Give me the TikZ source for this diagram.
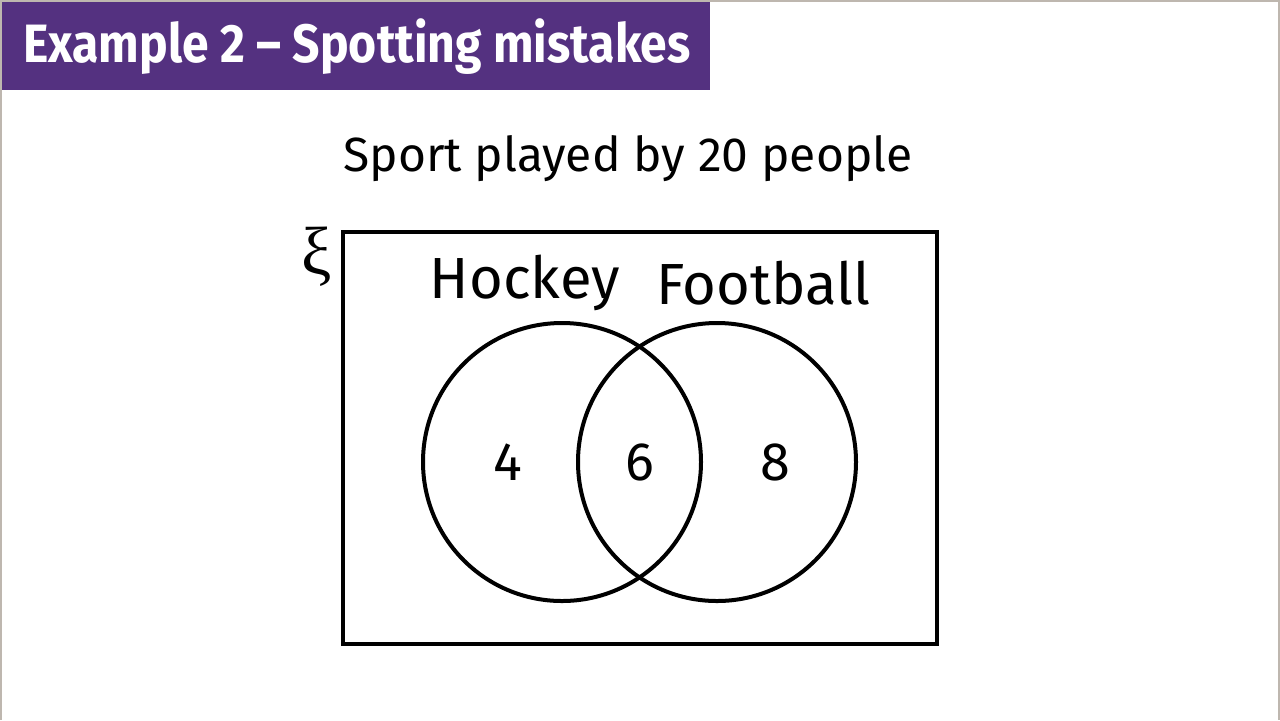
\documentclass[tikz,border=0pt]{standalone}
\usepackage{fontspec}
\setmainfont{Fira Sans}
\newfontfamily\titlefont[FakeStretch=0.89]{Fira Sans}
\newfontfamily\greekfont{Liberation Serif}
\usetikzlibrary{positioning}

\definecolor{bbcpurple}{RGB}{84,49,128}
\definecolor{framegrey}{RGB}{190,183,175}

\begin{document}
\begin{tikzpicture}[x=0.5pt, y=-0.5pt,
		vennline/.style = {line width=2pt, black},
		setlabel/.style = {font=\fontsize{29}{34}\selectfont, inner sep=0pt},
		count/.style = {font=\fontsize{27}{32}\selectfont, inner sep=0pt}]
			\useasboundingbox (0,0) rectangle (1280,720);
			\fill[white] (0,0) rectangle (1280,720);
			\draw[framegrey, line width=1pt] (1,720) -- (1,1) -- (1279,1) -- (1279,720);
			% title bar
			\fill[bbcpurple] (2,2) rectangle (710,90);
			\node[text=white, font=\titlefont\fontsize{27}{32}\selectfont\bfseries, anchor=west, inner sep=0pt] (title) at (23,47) {Example 2 – Spotting mistakes};
			\node[font=\fontsize{24}{30}\selectfont, inner sep=0pt] (heading) at (628,159) {Sport played by 20 people};
			% universal set
			\draw[vennline] (343,232) rectangle (937,644);
			\node[font=\greekfont\fontsize{34}{38}\selectfont, inner sep=0pt] (xi) at (317,257) {ξ};
			% the two sets
			\draw[vennline] (562,462) circle (139);
			\draw[vennline] (717,462) circle (139);
			\node[setlabel] (hockey) at (525,283) {Hockey};
			\node[setlabel] (football) at (763,283) {Football};
			\node[count] (only hockey) at (508,462) {4};
			\node[count] (both) at (640,462) {6};
			\node[count] (only football) at (775,462) {8};
		\end{tikzpicture}
\end{document}
